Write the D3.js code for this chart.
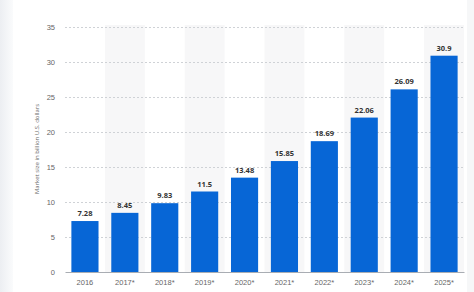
<!DOCTYPE html>
<html>
<head>
<meta charset="utf-8">
<script src="https://cdn.jsdelivr.net/npm/d3@7"></script>
<style>
  body { margin: 0; background: #fff; }
  svg { display: block; font-family: "Open Sans", "DejaVu Sans", sans-serif; }
</style>
</head>
<body>
<svg id="chart" width="474" height="292"></svg>
<script>
// data
var years = ['2016', '2017*', '2018*', '2019*', '2020*', '2021*', '2022*', '2023*', '2024*', '2025*'];
var marketSize = [7.28, 8.45, 9.83, 11.5, 13.48, 15.85, 18.69, 22.06, 26.09, 30.9];
var yTicks = [0, 5, 10, 15, 20, 25, 30, 35];

var W = 474, H = 292;
var margin = {top: 27, right: 10, bottom: 20, left: 65};
var plotW = 464 - margin.left;
var plotH = 272 - margin.top;

var svg = d3.select('#chart');

// card edges
var defs = svg.append('defs');
var grad = defs.append('linearGradient').attr('id', 'edge');
grad.append('stop').attr('offset', 0).attr('stop-color', '#eceef2');
grad.append('stop').attr('offset', 1).attr('stop-color', '#fafbfc');
svg.append('rect').attr('x', 0).attr('y', 0).attr('width', 13).attr('height', H).attr('fill', 'url(#edge)');
svg.append('rect').attr('x', 467).attr('y', 0).attr('width', 7).attr('height', H).attr('fill', '#f6f7f8');

var g = svg.append('g').attr('transform', 'translate(' + margin.left + ',' + margin.top + ')');

var x = d3.scaleBand().domain(years).range([0, plotW]).paddingInner(0.32).paddingOuter(0.16);
var y = d3.scaleLinear().domain([0, 35]).range([plotH, 0]);

// alternating shaded columns
var step = x.step();
g.selectAll('.shade')
  .data(years.filter(function(d, i) { return i % 2 === 1; }))
  .enter().append('rect')
  .attr('class', 'shade')
  .attr('x', function(d) { return x(d) + x.bandwidth() / 2 - step / 2; })
  .attr('y', -2)
  .attr('width', step)
  .attr('height', plotH + 2)
  .attr('fill', '#f7f7f8');

// grid
g.selectAll('.grid')
  .data(yTicks.filter(function(d) { return d > 0; }))
  .enter().append('line')
  .attr('class', 'grid')
  .attr('x1', 0).attr('x2', plotW)
  .attr('y1', function(d) { return y(d) + 0.5; })
  .attr('y2', function(d) { return y(d) + 0.5; })
  .attr('stroke', '#cfd2d6')
  .attr('stroke-width', 1)
  .attr('stroke-dasharray', '2,2');

// y axis
var yAxis = g.append('g')
  .call(d3.axisLeft(y).tickValues(yTicks).tickSize(0).tickPadding(10));
yAxis.select('.domain').remove();
yAxis.selectAll('text').attr('fill', '#666').style('font-size', '7.5px');

// x axis
var xAxis = g.append('g')
  .attr('transform', 'translate(0,' + plotH + ')')
  .call(d3.axisBottom(x).tickSize(0).tickPadding(8));
xAxis.select('.domain').attr('stroke', '#a9adb3');
xAxis.selectAll('text').attr('fill', '#666').style('font-size', '7.5px');

// bars
g.selectAll('.bar')
  .data(marketSize)
  .enter().append('rect')
  .attr('class', 'bar')
  .attr('x', function(d, i) { return x(years[i]); })
  .attr('y', function(d) { return y(d); })
  .attr('width', x.bandwidth())
  .attr('height', function(d) { return plotH - y(d); })
  .attr('fill', '#0766d6');

// value labels
g.selectAll('.val')
  .data(marketSize)
  .enter().append('text')
  .attr('class', 'val')
  .attr('x', function(d, i) { return x(years[i]) + x.bandwidth() / 2; })
  .attr('y', function(d) { return y(d) - 5; })
  .attr('text-anchor', 'middle')
  .attr('fill', '#333')
  .style('font-size', '7.5px')
  .style('font-weight', 'bold')
  .text(function(d) { return d; });

// y title
svg.append('text')
  .attr('transform', 'translate(39,149) rotate(-90)')
  .attr('text-anchor', 'middle')
  .attr('fill', '#666')
  .style('font-size', '6px')
  .text('Market size in billion U.S. dollars');
</script>
</body>
</html>
